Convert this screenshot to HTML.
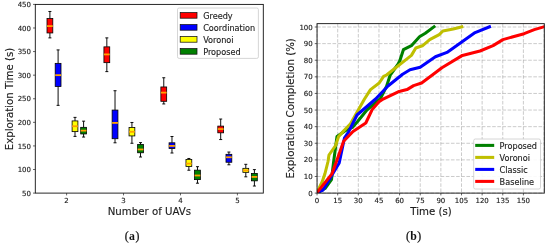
<!DOCTYPE html>
<html><head><meta charset="utf-8"><title>figure</title>
<style>
html,body{margin:0;padding:0;background:#fff;}
body{width:550px;height:246px;overflow:hidden;}
svg{display:block;filter:blur(0.3px);}
text{font-family:"DejaVu Sans","Liberation Sans",sans-serif;fill:#1c1c1c;stroke:#1c1c1c;stroke-width:0.14px;}
.tk{font-size:7px;}
.lb{font-size:10.2px;}
.lg{font-size:8.15px;}
.cap{font-family:"Liberation Serif","DejaVu Serif",serif;font-size:11.8px;fill:#111;letter-spacing:0.45px;stroke:#111;stroke-width:0.22px;}
.b{font-weight:bold;stroke-width:0;}
</style></head><body>
<svg width="550" height="246" viewBox="0 0 550 246">
<rect width="550" height="246" fill="#fff"/>

<g id="left">
<g stroke="#000" stroke-width="0.95" fill="none">
<line x1="49.90" y1="11.48" x2="49.90" y2="18.55"/>
<line x1="49.90" y1="32.94" x2="49.90" y2="37.89"/>
<line x1="48.40" y1="11.48" x2="51.40" y2="11.48"/>
<line x1="48.40" y1="37.89" x2="51.40" y2="37.89"/>
<rect x="47.00" y="18.55" width="5.8" height="14.39" fill="#ff0000" stroke-width="0.8"/>
</g>
<line x1="47.00" y1="26.10" x2="52.80" y2="26.10" stroke="#ffa000" stroke-width="1.8"/>
<g stroke="#000" stroke-width="0.95" fill="none">
<line x1="58.10" y1="49.92" x2="58.10" y2="63.37"/>
<line x1="58.10" y1="86.48" x2="58.10" y2="105.35"/>
<line x1="56.60" y1="49.92" x2="59.60" y2="49.92"/>
<line x1="56.60" y1="105.35" x2="59.60" y2="105.35"/>
<rect x="55.20" y="63.37" width="5.8" height="23.12" fill="#0000ff" stroke-width="0.8"/>
</g>
<line x1="55.20" y1="75.16" x2="61.00" y2="75.16" stroke="#ffa000" stroke-width="1.8"/>
<g stroke="#000" stroke-width="0.95" fill="none">
<line x1="75.00" y1="117.38" x2="75.00" y2="120.92"/>
<line x1="75.00" y1="131.63" x2="75.00" y2="136.40"/>
<line x1="73.50" y1="117.38" x2="76.50" y2="117.38"/>
<line x1="73.50" y1="136.40" x2="76.50" y2="136.40"/>
<rect x="72.10" y="120.92" width="5.8" height="10.71" fill="#ffff00" stroke-width="0.8"/>
</g>
<line x1="72.10" y1="126.25" x2="77.90" y2="126.25" stroke="#ffa000" stroke-width="1.8"/>
<g stroke="#000" stroke-width="0.95" fill="none">
<line x1="83.60" y1="121.16" x2="83.60" y2="127.34"/>
<line x1="83.60" y1="133.94" x2="83.60" y2="137.06"/>
<line x1="82.10" y1="121.16" x2="85.10" y2="121.16"/>
<line x1="82.10" y1="137.06" x2="85.10" y2="137.06"/>
<rect x="80.70" y="127.34" width="5.8" height="6.60" fill="#008000" stroke-width="0.8"/>
</g>
<line x1="80.70" y1="130.64" x2="86.50" y2="130.64" stroke="#ffa000" stroke-width="1.8"/>
<g stroke="#000" stroke-width="0.95" fill="none">
<line x1="106.83" y1="37.89" x2="106.83" y2="46.86"/>
<line x1="106.83" y1="62.66" x2="106.83" y2="71.62"/>
<line x1="105.33" y1="37.89" x2="108.33" y2="37.89"/>
<line x1="105.33" y1="71.62" x2="108.33" y2="71.62"/>
<rect x="103.93" y="46.86" width="5.8" height="15.80" fill="#ff0000" stroke-width="0.8"/>
</g>
<line x1="103.93" y1="54.41" x2="109.73" y2="54.41" stroke="#ffa000" stroke-width="1.8"/>
<g stroke="#000" stroke-width="0.95" fill="none">
<line x1="115.03" y1="90.73" x2="115.03" y2="110.07"/>
<line x1="115.03" y1="138.71" x2="115.03" y2="142.81"/>
<line x1="113.53" y1="90.73" x2="116.53" y2="90.73"/>
<line x1="113.53" y1="142.81" x2="116.53" y2="142.81"/>
<rect x="112.13" y="110.07" width="5.8" height="28.64" fill="#0000ff" stroke-width="0.8"/>
</g>
<line x1="112.13" y1="122.90" x2="117.93" y2="122.90" stroke="#ffa000" stroke-width="1.8"/>
<g stroke="#000" stroke-width="0.95" fill="none">
<line x1="131.93" y1="122.48" x2="131.93" y2="127.53"/>
<line x1="131.93" y1="135.92" x2="131.93" y2="143.28"/>
<line x1="130.43" y1="122.48" x2="133.43" y2="122.48"/>
<line x1="130.43" y1="143.28" x2="133.43" y2="143.28"/>
<rect x="129.03" y="127.53" width="5.8" height="8.40" fill="#ffff00" stroke-width="0.8"/>
</g>
<line x1="129.03" y1="131.77" x2="134.83" y2="131.77" stroke="#ffa000" stroke-width="1.8"/>
<g stroke="#000" stroke-width="0.95" fill="none">
<line x1="140.53" y1="142.62" x2="140.53" y2="144.51"/>
<line x1="140.53" y1="152.77" x2="140.53" y2="157.01"/>
<line x1="139.03" y1="142.62" x2="142.03" y2="142.62"/>
<line x1="139.03" y1="157.01" x2="142.03" y2="157.01"/>
<rect x="137.63" y="144.51" width="5.8" height="8.26" fill="#008000" stroke-width="0.8"/>
</g>
<line x1="137.63" y1="149.46" x2="143.43" y2="149.46" stroke="#ffa000" stroke-width="1.8"/>
<g stroke="#000" stroke-width="0.95" fill="none">
<line x1="163.77" y1="77.76" x2="163.77" y2="86.96"/>
<line x1="163.77" y1="101.30" x2="163.77" y2="103.94"/>
<line x1="162.27" y1="77.76" x2="165.27" y2="77.76"/>
<line x1="162.27" y1="103.94" x2="165.27" y2="103.94"/>
<rect x="160.87" y="86.96" width="5.8" height="14.34" fill="#ff0000" stroke-width="0.8"/>
</g>
<line x1="160.87" y1="92.62" x2="166.67" y2="92.62" stroke="#ffa000" stroke-width="1.8"/>
<g stroke="#000" stroke-width="0.95" fill="none">
<line x1="171.97" y1="136.49" x2="171.97" y2="142.81"/>
<line x1="171.97" y1="148.52" x2="171.97" y2="153.00"/>
<line x1="170.47" y1="136.49" x2="173.47" y2="136.49"/>
<line x1="170.47" y1="153.00" x2="173.47" y2="153.00"/>
<rect x="169.07" y="142.81" width="5.8" height="5.71" fill="#0000ff" stroke-width="0.8"/>
</g>
<line x1="169.07" y1="145.93" x2="174.87" y2="145.93" stroke="#ffa000" stroke-width="1.8"/>
<g stroke="#000" stroke-width="0.95" fill="none">
<line x1="188.87" y1="158.47" x2="188.87" y2="159.42"/>
<line x1="188.87" y1="166.45" x2="188.87" y2="170.22"/>
<line x1="187.37" y1="158.47" x2="190.37" y2="158.47"/>
<line x1="187.37" y1="170.22" x2="190.37" y2="170.22"/>
<rect x="185.97" y="159.42" width="5.8" height="7.03" fill="#ffff00" stroke-width="0.8"/>
</g>
<line x1="185.97" y1="163.62" x2="191.77" y2="163.62" stroke="#ffa000" stroke-width="1.8"/>
<g stroke="#000" stroke-width="0.95" fill="none">
<line x1="197.47" y1="166.68" x2="197.47" y2="170.17"/>
<line x1="197.47" y1="179.61" x2="197.47" y2="183.19"/>
<line x1="195.97" y1="166.68" x2="198.97" y2="166.68"/>
<line x1="195.97" y1="183.19" x2="198.97" y2="183.19"/>
<rect x="194.57" y="170.17" width="5.8" height="9.44" fill="#008000" stroke-width="0.8"/>
</g>
<line x1="194.57" y1="175.50" x2="200.37" y2="175.50" stroke="#ffa000" stroke-width="1.8"/>
<g stroke="#000" stroke-width="0.95" fill="none">
<line x1="220.70" y1="119.04" x2="220.70" y2="126.11"/>
<line x1="220.70" y1="132.81" x2="220.70" y2="139.56"/>
<line x1="219.20" y1="119.04" x2="222.20" y2="119.04"/>
<line x1="219.20" y1="139.56" x2="222.20" y2="139.56"/>
<rect x="217.80" y="126.11" width="5.8" height="6.70" fill="#ff0000" stroke-width="0.8"/>
</g>
<line x1="217.80" y1="129.04" x2="223.60" y2="129.04" stroke="#ffa000" stroke-width="1.8"/>
<g stroke="#000" stroke-width="0.95" fill="none">
<line x1="228.90" y1="152.06" x2="228.90" y2="154.32"/>
<line x1="228.90" y1="162.25" x2="228.90" y2="164.79"/>
<line x1="227.40" y1="152.06" x2="230.40" y2="152.06"/>
<line x1="227.40" y1="164.79" x2="230.40" y2="164.79"/>
<rect x="226.00" y="154.32" width="5.8" height="7.93" fill="#0000ff" stroke-width="0.8"/>
</g>
<line x1="226.00" y1="157.25" x2="231.80" y2="157.25" stroke="#ffa000" stroke-width="1.8"/>
<g stroke="#000" stroke-width="0.95" fill="none">
<line x1="245.80" y1="164.32" x2="245.80" y2="168.33"/>
<line x1="245.80" y1="172.34" x2="245.80" y2="176.82"/>
<line x1="244.30" y1="164.32" x2="247.30" y2="164.32"/>
<line x1="244.30" y1="176.82" x2="247.30" y2="176.82"/>
<rect x="242.90" y="168.33" width="5.8" height="4.01" fill="#ffff00" stroke-width="0.8"/>
</g>
<line x1="242.90" y1="170.46" x2="248.70" y2="170.46" stroke="#ffa000" stroke-width="1.8"/>
<g stroke="#000" stroke-width="0.95" fill="none">
<line x1="254.40" y1="169.61" x2="254.40" y2="173.43"/>
<line x1="254.40" y1="180.83" x2="254.40" y2="186.02"/>
<line x1="252.90" y1="169.61" x2="255.90" y2="169.61"/>
<line x1="252.90" y1="186.02" x2="255.90" y2="186.02"/>
<rect x="251.50" y="173.43" width="5.8" height="7.41" fill="#008000" stroke-width="0.8"/>
</g>
<line x1="251.50" y1="176.92" x2="257.30" y2="176.92" stroke="#ffa000" stroke-width="1.8"/>
<rect x="35.3" y="4.4" width="228.00" height="188.70" fill="none" stroke="#111" stroke-width="0.9"/>
<line x1="33.00" y1="193.10" x2="35.3" y2="193.10" stroke="#222" stroke-width="0.7"/>
<text class="tk" x="31.00" y="195.70" text-anchor="end">50</text>
<line x1="33.00" y1="169.51" x2="35.3" y2="169.51" stroke="#222" stroke-width="0.7"/>
<text class="tk" x="31.00" y="172.11" text-anchor="end">100</text>
<line x1="33.00" y1="145.93" x2="35.3" y2="145.93" stroke="#222" stroke-width="0.7"/>
<text class="tk" x="31.00" y="148.53" text-anchor="end">150</text>
<line x1="33.00" y1="122.34" x2="35.3" y2="122.34" stroke="#222" stroke-width="0.7"/>
<text class="tk" x="31.00" y="124.94" text-anchor="end">200</text>
<line x1="33.00" y1="98.75" x2="35.3" y2="98.75" stroke="#222" stroke-width="0.7"/>
<text class="tk" x="31.00" y="101.35" text-anchor="end">250</text>
<line x1="33.00" y1="75.16" x2="35.3" y2="75.16" stroke="#222" stroke-width="0.7"/>
<text class="tk" x="31.00" y="77.76" text-anchor="end">300</text>
<line x1="33.00" y1="51.57" x2="35.3" y2="51.57" stroke="#222" stroke-width="0.7"/>
<text class="tk" x="31.00" y="54.17" text-anchor="end">350</text>
<line x1="33.00" y1="27.99" x2="35.3" y2="27.99" stroke="#222" stroke-width="0.7"/>
<text class="tk" x="31.00" y="30.59" text-anchor="end">400</text>
<line x1="33.00" y1="4.40" x2="35.3" y2="4.40" stroke="#222" stroke-width="0.7"/>
<text class="tk" x="31.00" y="7.00" text-anchor="end">450</text>
<line x1="66.6" y1="193.1" x2="66.6" y2="195.40" stroke="#222" stroke-width="0.7"/>
<text class="tk" x="66.6" y="202.80" text-anchor="middle">2</text>
<line x1="123.53" y1="193.1" x2="123.53" y2="195.40" stroke="#222" stroke-width="0.7"/>
<text class="tk" x="123.53" y="202.80" text-anchor="middle">3</text>
<line x1="180.47" y1="193.1" x2="180.47" y2="195.40" stroke="#222" stroke-width="0.7"/>
<text class="tk" x="180.47" y="202.80" text-anchor="middle">4</text>
<line x1="237.4" y1="193.1" x2="237.4" y2="195.40" stroke="#222" stroke-width="0.7"/>
<text class="tk" x="237.4" y="202.80" text-anchor="middle">5</text>
<text class="lb" x="149.4" y="214.7" text-anchor="middle">Number of UAVs</text>
<text class="lb" transform="translate(12.6,99.0) rotate(-90)" text-anchor="middle">Exploration Time (s)</text>
<rect x="177.5" y="8" width="80.9" height="50.4" rx="1.6" fill="#fff" fill-opacity="0.9" stroke="#ccc" stroke-width="0.8"/>
<rect x="180.2" y="12.60" width="16.8" height="5.6" fill="#ff0000" stroke="#111" stroke-width="0.75"/>
<text class="lg" x="203.2" y="18.60">Greedy</text>
<rect x="180.2" y="24.60" width="16.8" height="5.6" fill="#0000ff" stroke="#111" stroke-width="0.75"/>
<text class="lg" x="203.2" y="30.60">Coordination</text>
<rect x="180.2" y="36.60" width="16.8" height="5.6" fill="#ffff00" stroke="#111" stroke-width="0.75"/>
<text class="lg" x="203.2" y="42.60">Voronoi</text>
<rect x="180.2" y="48.60" width="16.8" height="5.6" fill="#008000" stroke="#111" stroke-width="0.75"/>
<text class="lg" x="203.2" y="54.60">Proposed</text>
<text class="cap" x="124.7" y="240.1">(<tspan class="b">a</tspan>)</text>
</g>
<g id="right">
<g stroke="#a8a8a8" stroke-width="0.6" stroke-dasharray="3.6,1.55" fill="none">
<line x1="317.05" y1="23.65" x2="317.05" y2="193.1"/>
<line x1="337.69" y1="23.65" x2="337.69" y2="193.1"/>
<line x1="358.32" y1="23.65" x2="358.32" y2="193.1"/>
<line x1="378.96" y1="23.65" x2="378.96" y2="193.1"/>
<line x1="399.59" y1="23.65" x2="399.59" y2="193.1"/>
<line x1="420.23" y1="23.65" x2="420.23" y2="193.1"/>
<line x1="440.86" y1="23.65" x2="440.86" y2="193.1"/>
<line x1="461.50" y1="23.65" x2="461.50" y2="193.1"/>
<line x1="482.13" y1="23.65" x2="482.13" y2="193.1"/>
<line x1="502.77" y1="23.65" x2="502.77" y2="193.1"/>
<line x1="523.40" y1="23.65" x2="523.40" y2="193.1"/>
<line x1="544.04" y1="23.65" x2="544.04" y2="193.1"/>
<line x1="317.05" y1="193.10" x2="544.3" y2="193.10"/>
<line x1="317.05" y1="176.49" x2="544.3" y2="176.49"/>
<line x1="317.05" y1="159.88" x2="544.3" y2="159.88"/>
<line x1="317.05" y1="143.27" x2="544.3" y2="143.27"/>
<line x1="317.05" y1="126.66" x2="544.3" y2="126.66"/>
<line x1="317.05" y1="110.05" x2="544.3" y2="110.05"/>
<line x1="317.05" y1="93.44" x2="544.3" y2="93.44"/>
<line x1="317.05" y1="76.83" x2="544.3" y2="76.83"/>
<line x1="317.05" y1="60.22" x2="544.3" y2="60.22"/>
<line x1="317.05" y1="43.61" x2="544.3" y2="43.61"/>
<line x1="317.05" y1="27.00" x2="544.3" y2="27.00"/>
</g>
<clipPath id="rc"><rect x="317.05" y="23.65" width="227.25" height="169.45"/></clipPath>
<g clip-path="url(#rc)" fill="none" stroke-width="3.05" stroke-linejoin="round" stroke-linecap="square">
<polyline stroke="#008000" points="316.7,193.0 325.0,188.5 331.5,179.5 333.6,162.0 337.0,136.5 345.5,130.5 352.4,127.4 358.0,121.0 366.9,110.0 380.3,98.7 386.5,86.5 390.2,75.0 398.2,64.0 399.9,60.5 403.4,49.7 411.4,45.7 419.5,36.8 425.3,33.2 434.0,26.8"/>
<polyline stroke="#bfbf00" points="316.7,193.0 322.3,181.5 325.0,173.5 327.9,162.0 329.0,155.0 335.6,145.5 338.5,136.8 344.0,130.5 350.5,123.8 364.5,99.0 370.5,89.6 379.2,83.0 383.6,76.4 386.5,75.0 411.4,55.4 415.8,48.0 422.4,45.8 429.7,39.7 439.2,34.6 442.9,31.0 453.2,29.0 461.8,26.8"/>
<polyline stroke="#0000ff" points="316.7,193.0 323.0,190.0 339.2,163.0 344.4,138.2 348.5,132.0 357.0,115.0 375.6,99.0 388.0,86.0 402.6,74.2 410.0,69.8 420.2,67.3 435.4,56.8 447.0,52.4 475.1,32.6 489.5,26.8"/>
<polyline stroke="#ff0000" points="316.7,193.0 331.9,173.9 337.0,160.0 343.6,141.2 353.0,131.5 365.8,123.0 372.4,109.2 379.0,101.8 382.0,99.7 398.2,91.8 407.0,89.6 413.6,85.6 421.6,83.0 431.0,76.0 441.9,67.8 462.4,55.4 480.0,51.0 493.1,45.6 502.9,39.6 524.1,33.7 534.3,29.6 544.4,26.7"/>
</g>
<rect x="317.05" y="23.65" width="227.25" height="169.45" fill="none" stroke="#111" stroke-width="0.9"/>
<line x1="314.75" y1="193.10" x2="317.05" y2="193.10" stroke="#222" stroke-width="0.7"/>
<text class="tk" x="312.75" y="195.70" text-anchor="end">0</text>
<line x1="314.75" y1="176.49" x2="317.05" y2="176.49" stroke="#222" stroke-width="0.7"/>
<text class="tk" x="312.75" y="179.09" text-anchor="end">10</text>
<line x1="314.75" y1="159.88" x2="317.05" y2="159.88" stroke="#222" stroke-width="0.7"/>
<text class="tk" x="312.75" y="162.48" text-anchor="end">20</text>
<line x1="314.75" y1="143.27" x2="317.05" y2="143.27" stroke="#222" stroke-width="0.7"/>
<text class="tk" x="312.75" y="145.87" text-anchor="end">30</text>
<line x1="314.75" y1="126.66" x2="317.05" y2="126.66" stroke="#222" stroke-width="0.7"/>
<text class="tk" x="312.75" y="129.26" text-anchor="end">40</text>
<line x1="314.75" y1="110.05" x2="317.05" y2="110.05" stroke="#222" stroke-width="0.7"/>
<text class="tk" x="312.75" y="112.65" text-anchor="end">50</text>
<line x1="314.75" y1="93.44" x2="317.05" y2="93.44" stroke="#222" stroke-width="0.7"/>
<text class="tk" x="312.75" y="96.04" text-anchor="end">60</text>
<line x1="314.75" y1="76.83" x2="317.05" y2="76.83" stroke="#222" stroke-width="0.7"/>
<text class="tk" x="312.75" y="79.43" text-anchor="end">70</text>
<line x1="314.75" y1="60.22" x2="317.05" y2="60.22" stroke="#222" stroke-width="0.7"/>
<text class="tk" x="312.75" y="62.82" text-anchor="end">80</text>
<line x1="314.75" y1="43.61" x2="317.05" y2="43.61" stroke="#222" stroke-width="0.7"/>
<text class="tk" x="312.75" y="46.21" text-anchor="end">90</text>
<line x1="314.75" y1="27.00" x2="317.05" y2="27.00" stroke="#222" stroke-width="0.7"/>
<text class="tk" x="312.75" y="29.60" text-anchor="end">100</text>
<line x1="317.05" y1="193.1" x2="317.05" y2="195.40" stroke="#222" stroke-width="0.7"/>
<text class="tk" x="317.05" y="202.80" text-anchor="middle">0</text>
<line x1="337.69" y1="193.1" x2="337.69" y2="195.40" stroke="#222" stroke-width="0.7"/>
<text class="tk" x="337.69" y="202.80" text-anchor="middle">15</text>
<line x1="358.32" y1="193.1" x2="358.32" y2="195.40" stroke="#222" stroke-width="0.7"/>
<text class="tk" x="358.32" y="202.80" text-anchor="middle">30</text>
<line x1="378.96" y1="193.1" x2="378.96" y2="195.40" stroke="#222" stroke-width="0.7"/>
<text class="tk" x="378.96" y="202.80" text-anchor="middle">45</text>
<line x1="399.59" y1="193.1" x2="399.59" y2="195.40" stroke="#222" stroke-width="0.7"/>
<text class="tk" x="399.59" y="202.80" text-anchor="middle">60</text>
<line x1="420.23" y1="193.1" x2="420.23" y2="195.40" stroke="#222" stroke-width="0.7"/>
<text class="tk" x="420.23" y="202.80" text-anchor="middle">75</text>
<line x1="440.86" y1="193.1" x2="440.86" y2="195.40" stroke="#222" stroke-width="0.7"/>
<text class="tk" x="440.86" y="202.80" text-anchor="middle">90</text>
<line x1="461.50" y1="193.1" x2="461.50" y2="195.40" stroke="#222" stroke-width="0.7"/>
<text class="tk" x="461.50" y="202.80" text-anchor="middle">105</text>
<line x1="482.13" y1="193.1" x2="482.13" y2="195.40" stroke="#222" stroke-width="0.7"/>
<text class="tk" x="482.13" y="202.80" text-anchor="middle">120</text>
<line x1="502.77" y1="193.1" x2="502.77" y2="195.40" stroke="#222" stroke-width="0.7"/>
<text class="tk" x="502.77" y="202.80" text-anchor="middle">135</text>
<line x1="523.40" y1="193.1" x2="523.40" y2="195.40" stroke="#222" stroke-width="0.7"/>
<text class="tk" x="523.40" y="202.80" text-anchor="middle">150</text>
<text class="lb" x="431.0" y="214.7" text-anchor="middle">Time (s)</text>
<text class="lb" transform="translate(294.4,108.4) rotate(-90)" text-anchor="middle">Exploration Completion (%)</text>
<rect x="473.7" y="139" width="66.8" height="50" rx="1.6" fill="#fff" fill-opacity="0.9" stroke="#ccc" stroke-width="0.8"/>
<line x1="475.2" y1="145.40" x2="494.2" y2="145.40" stroke="#008000" stroke-width="3.05"/>
<text class="lg" x="499.6" y="148.60">Proposed</text>
<line x1="475.2" y1="157.40" x2="494.2" y2="157.40" stroke="#bfbf00" stroke-width="3.05"/>
<text class="lg" x="499.6" y="160.60">Voronoi</text>
<line x1="475.2" y1="169.40" x2="494.2" y2="169.40" stroke="#0000ff" stroke-width="3.05"/>
<text class="lg" x="499.6" y="172.60">Classic</text>
<line x1="475.2" y1="181.40" x2="494.2" y2="181.40" stroke="#ff0000" stroke-width="3.05"/>
<text class="lg" x="499.6" y="184.60">Baseline</text>
<text class="cap" x="405.9" y="240.2">(<tspan class="b">b</tspan>)</text>
</g>
</svg>
</body></html>
